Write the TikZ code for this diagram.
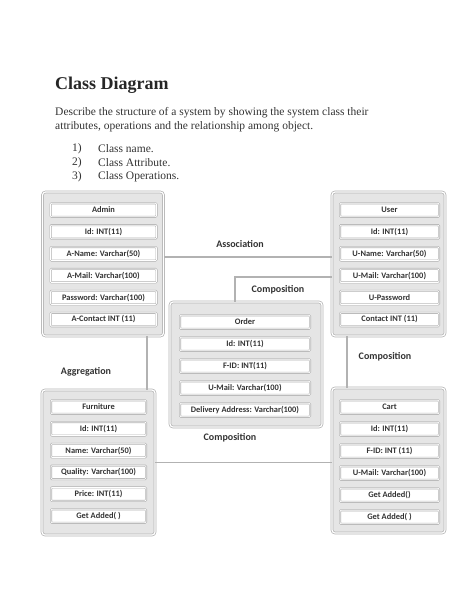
\documentclass[tikz,border=0pt]{standalone}
\usepackage{fontspec}
\setmainfont{Carlito}
\newfontfamily\headfont{Liberation Serif}
\begin{document}
\begin{tikzpicture}[x=1pt,y=-1pt,
  cls/.style={draw=gray!60, double=white, double distance=1.2pt, line width=0.7pt, rounded corners=3pt, fill=gray!20, inner sep=0pt},
  row/.style={draw=gray!60, double=white, double distance=0.8pt, line width=0.6pt, fill=white, minimum height=13.5pt, inner sep=1pt, rounded corners=1pt, font=\fontsize{8.4}{9}\selectfont\bfseries, text=black!80},
  conn/.style={draw=gray!60, line width=1.6pt},
  lbl/.style={font=\fontsize{10}{11}\selectfont\bfseries, text=black!80},
  txt/.style={font=\headfont\fontsize{11.5}{14}\selectfont, text=black!80, inner sep=0pt, anchor=west}
]
\useasboundingbox (0,0) rectangle (474,613);

% heading
\node[anchor=west, inner sep=0pt, font=\headfont\fontsize{18}{20}\selectfont\bfseries, text=black!85] (title) at (55,85) {Class Diagram};
\node[txt] (p1) at (55,113) {Describe the structure of a system by showing the system class their};
\node[txt] (p2) at (55,127) {attributes, operations and the relationship among object.};
\node[txt] (n1) at (72,149) {1)};
\node[txt] (n2) at (72,163) {2)};
\node[txt] (n3) at (72,177) {3)};
\node[txt] (i1) at (98,149) {Class name.};
\node[txt] (i2) at (98,163) {Class Attribute.};
\node[txt] (i3) at (98,177) {Class Operations.};

% class boxes
\node[cls, minimum width=121pt, minimum height=144pt] (admin) at (103,264) {};
\node[cls, minimum width=113pt, minimum height=144pt] (user) at (388.5,264) {};
\node[cls, minimum width=152pt, minimum height=125pt] (order) at (246,364.5) {};
\node[cls, minimum width=113pt, minimum height=145pt] (furn) at (98.5,462.5) {};
\node[cls, minimum width=113pt, minimum height=145pt] (cart) at (388.5,460.5) {};

% connectors
\draw[conn] ([yshift=7pt]admin.east) -- ([yshift=7pt]user.west);
\draw[conn] ([xshift=-11pt]order.north) |- ([yshift=-13pt]user.west);
\draw[conn] ([xshift=44pt]admin.south) -- ([xshift=44pt]admin.south |- furn.north);
\draw[conn] ([xshift=-41.5pt]user.south) -- ([xshift=-41.5pt]user.south |- cart.north);
\draw[conn] (furn.east) -- (furn.east -| cart.west);

% labels
\node[lbl] (la) at (240,244) {Association};
\node[lbl] (lc1) at (278,290) {Composition};
\node[lbl] (lag) at (86,372) {Aggregation};
\node[lbl] (lc2) at (385,357) {Composition};
\node[lbl] (lc3) at (230,438) {Composition};

% Admin rows
\foreach \t [count=\i] in {Admin, Id: INT(11), A-Name: Varchar(50), A-Mail: Varchar(100), Password: Varchar(100), A-Contact INT (11)}{
  \pgfmathsetmacro\yy{210+21.9*(\i-1)}
  \node[row, minimum width=106pt] (admin\i) at (103.5,\yy) {\t};
}
% User rows
\foreach \t [count=\i] in {User, Id: INT(11), U-Name: Varchar(50), U-Mail: Varchar(100), U-Password, Contact INT (11)}{
  \pgfmathsetmacro\yy{210+21.9*(\i-1)}
  \node[row, minimum width=99pt] (user\i) at (389.5,\yy) {\t};
}
% Order rows
\foreach \t [count=\i] in {Order, Id: INT(11), F-ID: INT(11), U-Mail: Varchar(100), Delivery Address: Varchar(100)}{
  \pgfmathsetmacro\yy{322+22*(\i-1)}
  \node[row, minimum width=130pt] (order\i) at (245,\yy) {\t};
}
% Furniture rows
\foreach \t [count=\i] in {Furniture, Id: INT(11), Name: Varchar(50), Quality: Varchar(100), Price: INT(11), Get Added( )}{
  \pgfmathsetmacro\yy{407+21.8*(\i-1)}
  \node[row, minimum width=95pt] (furn\i) at (98.5,\yy) {\t};
}
% Cart rows
\foreach \t [count=\i] in {Cart, Id: INT(11), F-ID: INT (11), U-Mail: Varchar(100), Get Added(), Get Added( )}{
  \pgfmathsetmacro\yy{407+22*(\i-1)}
  \node[row, minimum width=99pt] (cart\i) at (389.5,\yy) {\t};
}
\end{tikzpicture}
\end{document}
